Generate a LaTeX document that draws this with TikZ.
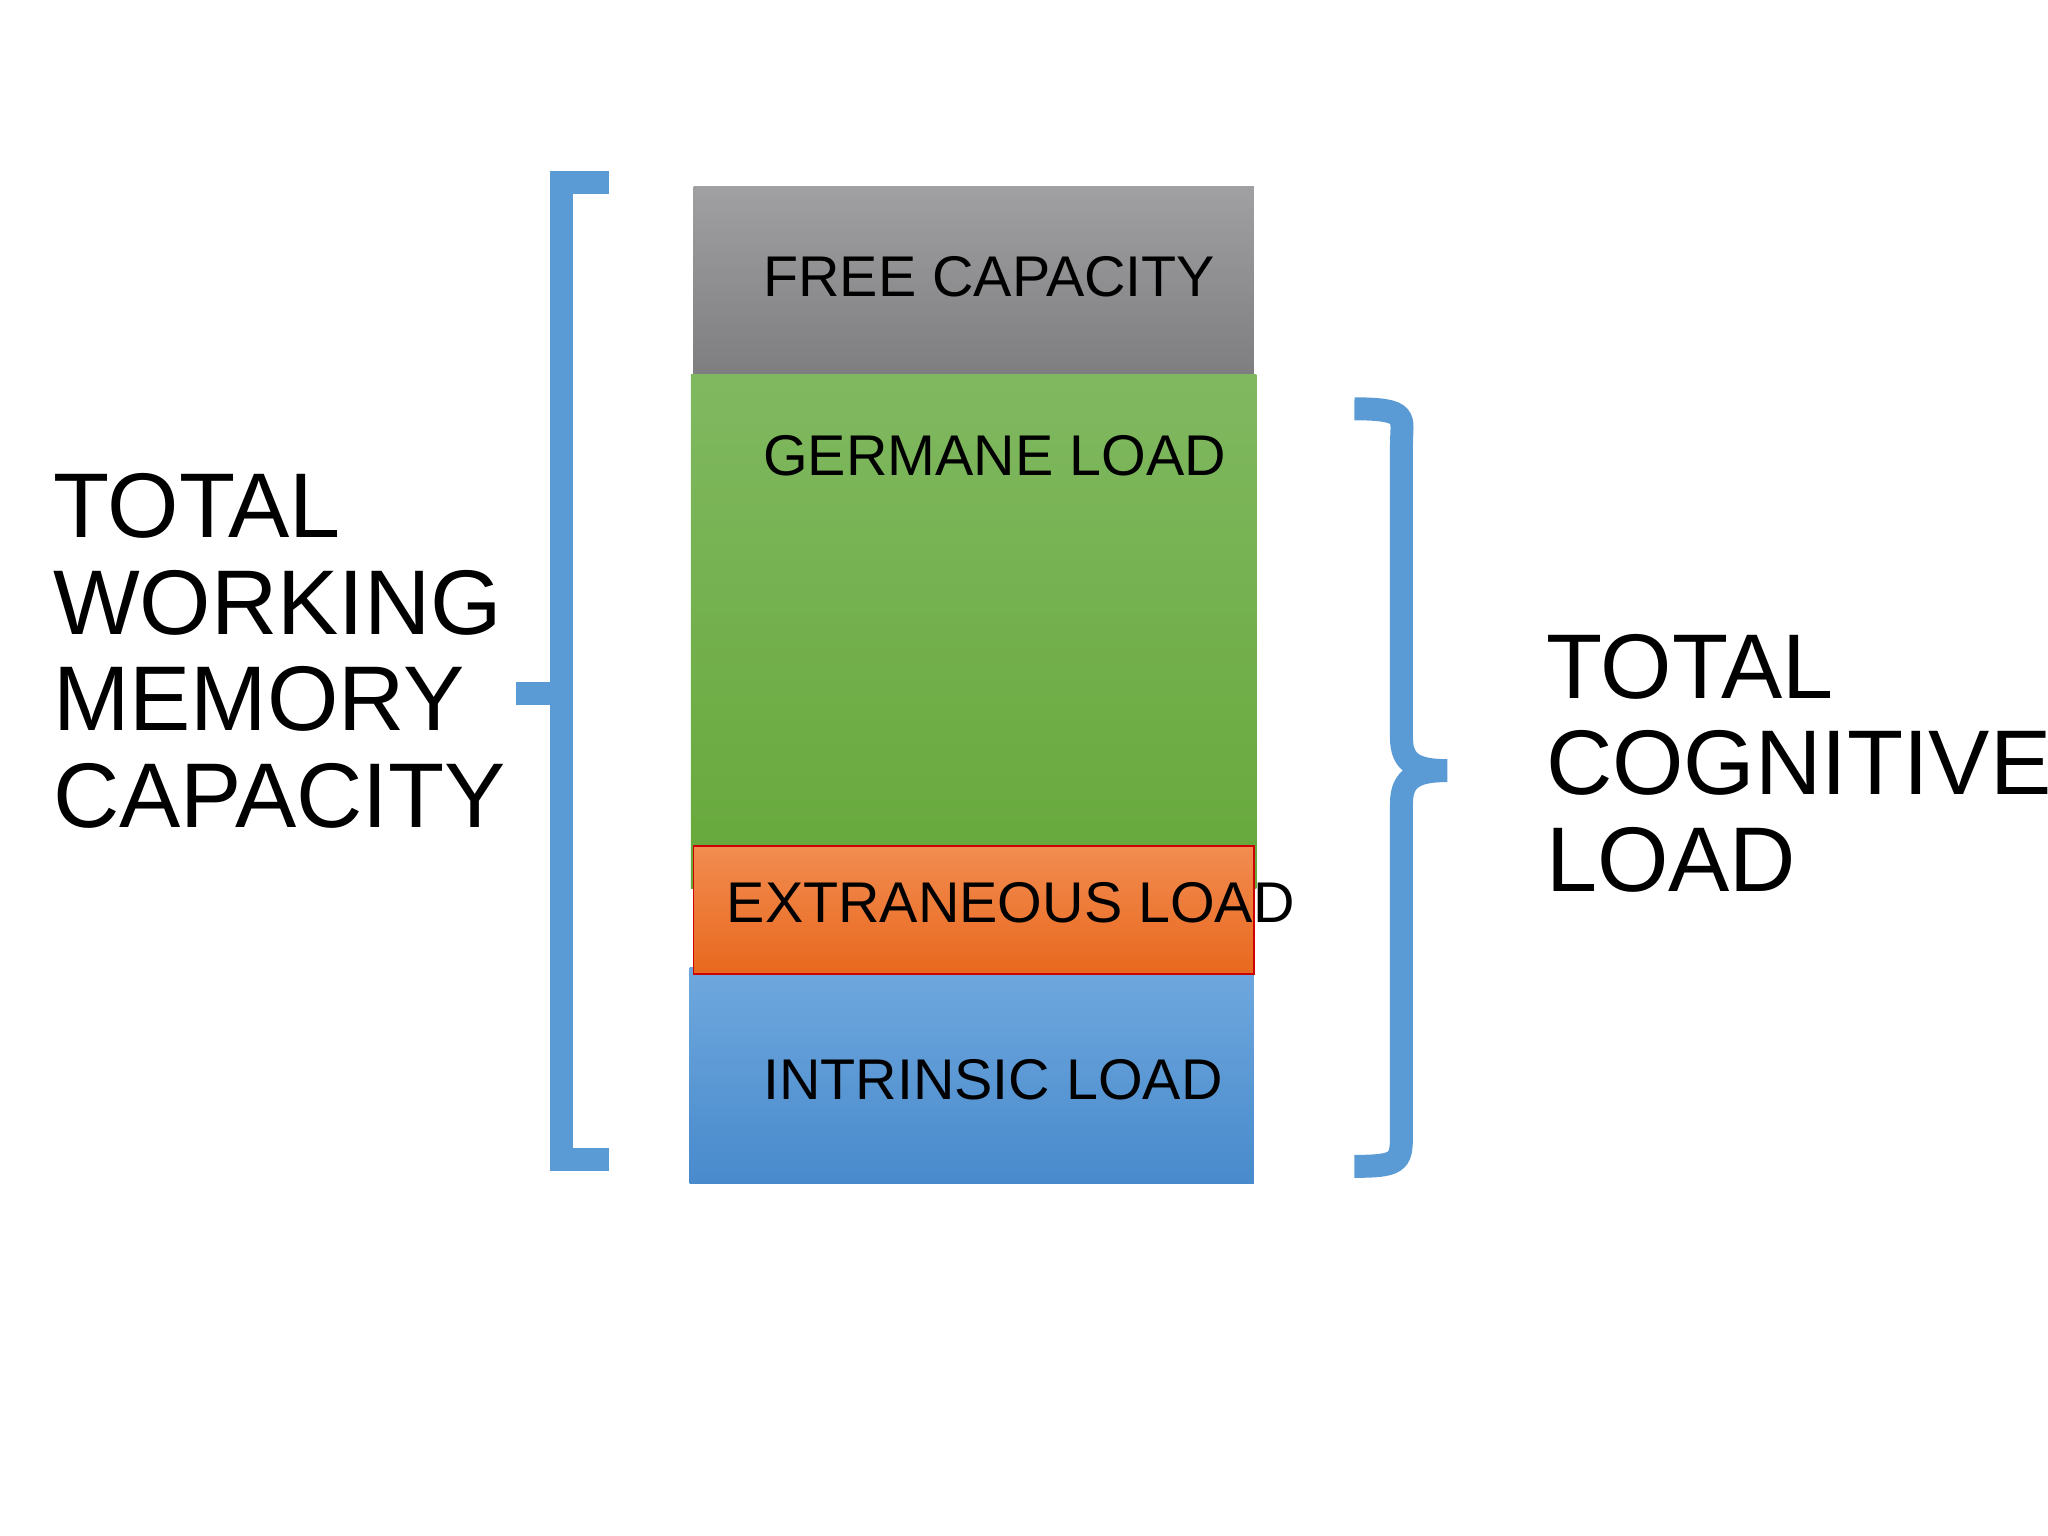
\documentclass[tikz,border=0pt]{standalone}
\usepackage{fontspec}
\setmainfont{Liberation Sans}
\usetikzlibrary{positioning}
\definecolor{bracketblue}{HTML}{5B9BD5}
\begin{document}
\begin{tikzpicture}[x=0.01cm, y=-0.01cm,
  block/.style={draw=none},
  blocktext/.style={anchor=west, font=\fontsize{12.5}{14}\selectfont},
  bigtext/.style={anchor=north west, align=left, inner sep=0pt,
    font=\fontsize{20}{21}\selectfont},
  bracket/.style={draw=bracketblue, line width=5\pgflinewidth}]%

\useasboundingbox (0,0) rectangle (1568,1176);

% stacked blocks
\shade [top color={rgb,255:red,160;green,160;blue,162}, bottom color={rgb,255:red,126;green,125;blue,128}]
  (531,143) rectangle (960,287);
\shade [top color={rgb,255:red,128;green,184;blue,96}, bottom color={rgb,255:red,102;green,168;blue,58}]
  (529,287) rectangle (962,680);
\shade [top color={rgb,255:red,111;green,168;blue,222}, bottom color={rgb,255:red,72;green,138;blue,204}]
  (528,741) rectangle (960,906);
\shade [top color={rgb,255:red,242;green,140;blue,80}, bottom color={rgb,255:red,232;green,104;blue,30}]
  (531,648) rectangle (960,746);
\draw [red!80!black, thin] (531,648) rectangle (960,746);

\node [blocktext] (free) at (572,212) {FREE CAPACITY};
\node [blocktext] (germane) at (572,349) {GERMANE LOAD};
\node [blocktext] (extraneous) at (544,691) {EXTRANEOUS LOAD};
\node [blocktext] (intrinsic) at (572,827) {INTRINSIC LOAD};

% left bracket
\draw [bracket, line width=5pt] (466,140) -- (430,140) -- (430,888) -- (466,888);
\draw [bracket, line width=5pt] (395,531) -- (430,531);

% right brace
\draw [bracket, line width=5pt] (1037,313) .. controls (1080,313) and (1073,320) .. (1073,340)
  -- (1073,565) .. controls (1073,585) and (1085,590) .. (1108,590)
  .. controls (1085,590) and (1073,595) .. (1073,615)
  -- (1073,870) .. controls (1073,890) and (1070,893) .. (1037,893);

\node [bigtext] (memory) at (40,362) {TOTAL\\WORKING\\MEMORY\\CAPACITY};
\node [bigtext] (cognitive) at (1183,485) {TOTAL\\COGNITIVE\\LOAD};

\end{tikzpicture}
\end{document}
